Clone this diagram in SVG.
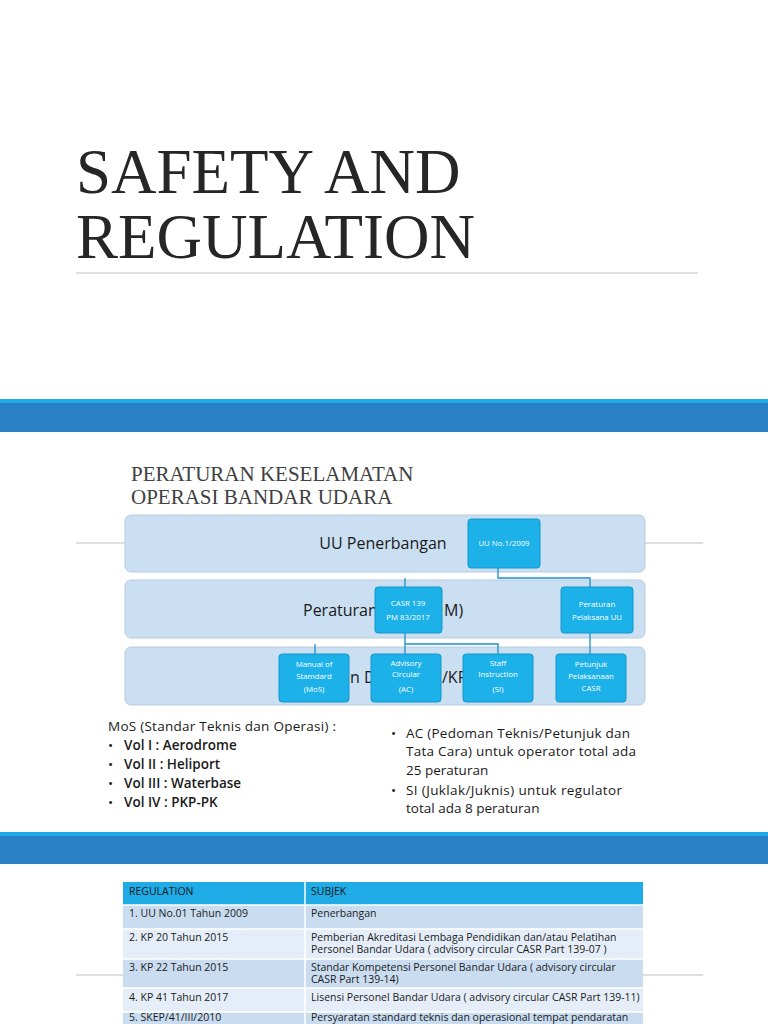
<svg xmlns="http://www.w3.org/2000/svg" width="768" height="1024" viewBox="0 0 768 1024">
<style>
.ser{font-family:"Liberation Serif","Times New Roman",serif;fill:#262626}
.h2{font-family:"Liberation Serif",serif;font-size:21px;fill:#404040}
.row{fill:#cadff2;stroke:#b7cbe0;stroke-width:1}
.nd{fill:#1db1ea;stroke:#1597c9;stroke-width:1}
.nt{font-family:"Open Sans","Noto Sans",sans-serif;font-size:7.8px;fill:#fff;text-anchor:middle}
.rt{font-family:"Open Sans","Noto Sans",sans-serif;font-size:16px;fill:#1a1a1a}
.bt{font-family:"Open Sans","Noto Sans",sans-serif;font-size:13.5px;fill:#1a1a1a}
.bb{font-family:"Open Sans","Noto Sans",sans-serif;font-size:13.5px;fill:#1a1a1a;font-weight:600}
.tt{font-family:"Open Sans","Noto Sans",sans-serif;font-size:10.5px;fill:#1a1a1a}
.gl{stroke:#bfbfbf;stroke-width:1}
.cn{fill:none;stroke:#1b8fc4;stroke-width:1.3}
</style>
<rect width="768" height="1024" fill="#fff"/>
<text class="ser" x="76" y="193" font-size="63">SAFETY AND</text>
<text class="ser" x="76" y="258" font-size="63">REGULATION</text>
<line class="gl" x1="76" y1="273" x2="698" y2="273"/>
<rect x="0" y="399" width="768" height="33" fill="#2a80c5"/>
<rect x="0" y="399" width="768" height="4" fill="#1eabe6"/>
<text class="h2" x="131" y="481">PERATURAN KESELAMATAN</text>
<text class="h2" x="131" y="504">OPERASI BANDAR UDARA</text>
<line class="gl" x1="76" y1="543" x2="125" y2="543"/>
<line class="gl" x1="644" y1="543" x2="703" y2="543"/>
<g id="rows">
<rect class="row" x="125" y="515" width="520" height="57" rx="6"/>
<rect class="row" x="125" y="580" width="520" height="58" rx="6"/>
<rect class="row" x="125" y="647" width="520" height="58" rx="6"/>
<text class="rt" x="383" y="549" text-anchor="middle">UU Penerbangan</text>
<text class="rt" x="303" y="616">Peraturan</text>
<text class="rt" x="444" y="616">M)</text>
<text class="rt" x="350" y="683">n D</text>
<text class="rt" x="442" y="683">/KP</text>
</g>
<g id="connectors">
<path class="cn" d="M498 568V578H590V587M405 578V587"/>
<path class="cn" d="M405 633V644H498V654M315 644V654M405 644V654"/>
<path class="cn" d="M590 633V654"/>
</g>
<g id="n1"><rect class="nd" x="468" y="519" width="72" height="49" rx="3"/><text class="nt" x="504" y="546">UU No.1/2009</text></g>
<g id="n2"><rect class="nd" x="375" y="587" width="67" height="46" rx="3"/><text class="nt" x="408" y="606">CASR 139</text><text class="nt" x="408" y="620">PM 83/2017</text></g>
<g id="n3"><rect class="nd" x="561" y="587" width="72" height="46" rx="3"/><text class="nt" x="597" y="607">Peraturan</text><text class="nt" x="597" y="620">Pelaksana UU</text></g>
<g id="n4"><rect class="nd" x="279" y="654" width="70" height="48" rx="3"/><text class="nt" x="314" y="667">Manual of</text><text class="nt" x="314" y="679">Stamdard</text><text class="nt" x="314" y="692">(MoS)</text></g>
<g id="n5"><rect class="nd" x="371" y="654" width="70" height="48" rx="3"/><text class="nt" x="406" y="666">Advisory</text><text class="nt" x="406" y="677">Circular</text><text class="nt" x="406" y="692">(AC)</text></g>
<g id="n6"><rect class="nd" x="463" y="654" width="70" height="48" rx="3"/><text class="nt" x="498" y="666">Staff</text><text class="nt" x="498" y="677">Instruction</text><text class="nt" x="498" y="692">(SI)</text></g>
<g id="n7"><rect class="nd" x="556" y="654" width="70" height="48" rx="3"/><text class="nt" x="591" y="667">Petunjuk</text><text class="nt" x="591" y="679">Pelaksanaan</text><text class="nt" x="591" y="691">CASR</text></g>
<g id="bullets">
<text class="bt" x="108" y="731" textLength="228">MoS (Standar Teknis dan Operasi) :</text>
<text class="bt" x="108" y="750">•</text><text class="bb" x="124" y="750">Vol I   : Aerodrome</text>
<text class="bt" x="108" y="769">•</text><text class="bb" x="124" y="769">Vol II  : Heliport</text>
<text class="bt" x="108" y="788">•</text><text class="bb" x="124" y="788">Vol III : Waterbase</text>
<text class="bt" x="108" y="807">•</text><text class="bb" x="124" y="807">Vol IV : PKP-PK</text>
<text class="bt" x="391" y="738">•</text><text class="bt" x="406" y="738" textLength="224">AC (Pedoman Teknis/Petunjuk dan</text>
<text class="bt" x="406" y="756" textLength="230">Tata Cara) untuk operator total ada</text>
<text class="bt" x="406" y="775">25 peraturan</text>
<text class="bt" x="391" y="795">•</text><text class="bt" x="406" y="795" textLength="216">SI (Juklak/Juknis) untuk regulator</text>
<text class="bt" x="406" y="813">total ada 8 peraturan</text>
</g>
<rect x="0" y="832" width="768" height="32" fill="#2a80c5"/>
<rect x="0" y="832" width="768" height="4" fill="#1eabe6"/>
<line class="gl" x1="76" y1="975" x2="123" y2="975"/>
<line class="gl" x1="642" y1="975" x2="703" y2="975"/>
<g id="table">
<rect x="123" y="882" width="520" height="23" fill="#1eabe6"/>
<rect x="123" y="905" width="520" height="24" fill="#c9dcf0"/>
<rect x="123" y="929" width="520" height="30" fill="#e5eef8"/>
<rect x="123" y="959" width="520" height="29" fill="#c9dcf0"/>
<rect x="123" y="988" width="520" height="24" fill="#e5eef8"/>
<rect x="123" y="1012" width="520" height="12" fill="#c9dcf0"/>
<path d="M305 882V1024M123 905H643M123 929H643M123 959H643M123 988H643M123 1012H643" stroke="#fff" stroke-width="1.5"/>
<text class="tt" x="129" y="895">REGULATION</text><text class="tt" x="311" y="895">SUBJEK</text>
<text class="tt" x="129" y="917">1. UU No.01 Tahun 2009</text><text class="tt" x="311" y="917">Penerbangan</text>
<text class="tt" x="129" y="941">2. KP 20 Tahun 2015</text><text class="tt" x="311" y="941">Pemberian Akreditasi Lembaga Pendidikan dan/atau Pelatihan</text>
<text class="tt" x="311" y="953">Personel Bandar Udara  ( advisory circular CASR Part 139-07 )</text>
<text class="tt" x="129" y="971">3. KP 22 Tahun 2015</text><text class="tt" x="311" y="971">Standar Kompetensi Personel Bandar Udara  ( advisory circular</text>
<text class="tt" x="311" y="983">CASR Part 139-14)</text>
<text class="tt" x="129" y="1001">4. KP 41 Tahun 2017</text><text class="tt" x="311" y="1001">Lisensi Personel Bandar Udara ( advisory circular CASR Part 139-11)</text>
<text class="tt" x="129" y="1021">5. SKEP/41/III/2010</text><text class="tt" x="311" y="1021">Persyaratan standard teknis dan operasional tempat pendaratan</text>
</g>
</svg>
